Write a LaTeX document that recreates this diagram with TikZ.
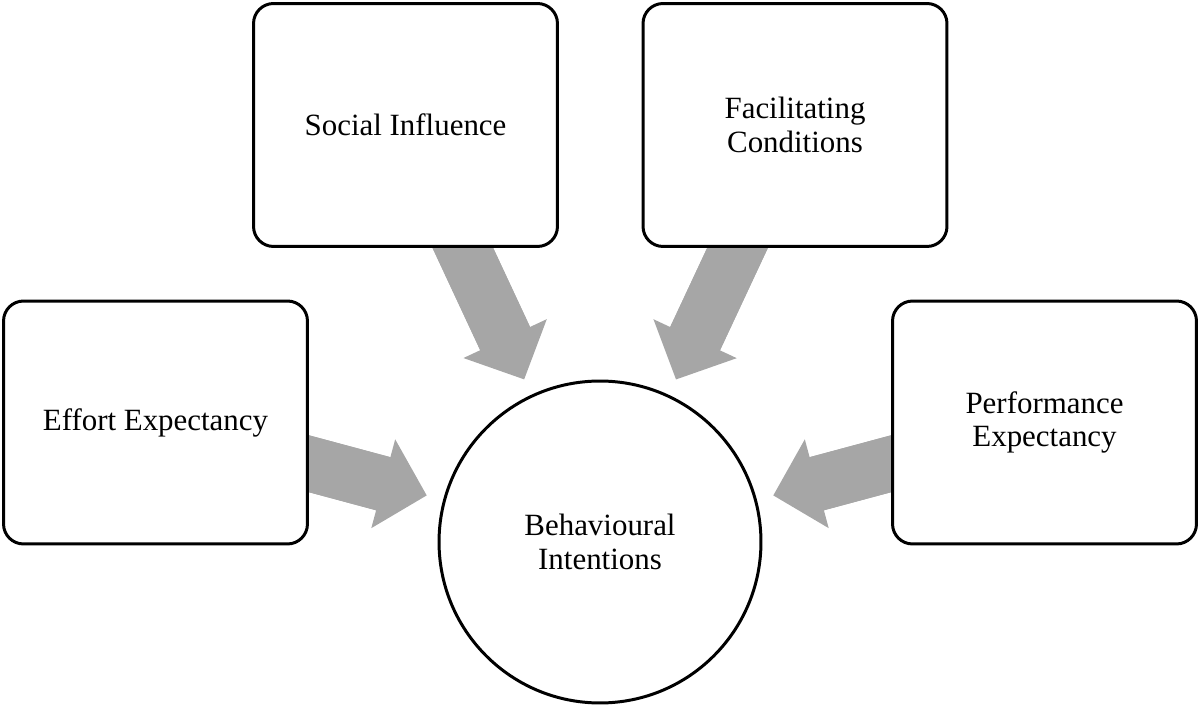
\documentclass[tikz,border=0pt]{standalone}
\usepackage{fontspec}
\setmainfont{Liberation Serif}
\usetikzlibrary{arrows.meta,backgrounds}
\definecolor{arrowgray}{HTML}{A6A6A6}
\tikzset{
  factorbox/.style={draw=black, line width=1.7pt, fill=white, rounded corners=0.4cm,
    minimum width=6.08cm, minimum height=4.86cm, align=center, inner sep=0pt,
    font=\fontsize{17.6pt}{19pt}\selectfont},
  centrecircle/.style={draw=black, line width=1.7pt, fill=white, circle,
    minimum size=6.44cm, align=center, inner sep=0pt,
    font=\fontsize{17.6pt}{19pt}\selectfont},
  blockarrow/.style={draw=arrowgray, line width=1.1cm, shorten >=0.34cm,
    -{Triangle[length=0.9cm, width=1.84cm, line width=0pt, color=arrowgray]}},
  blockshaft/.style={draw=arrowgray, line width=1.1cm, shorten >=0.94cm}
}
\begin{document}
\begin{tikzpicture}[x=0.02cm, y=-0.02cm]
  \useasboundingbox (0,0) rectangle (1200,705);
  \node[factorbox] (effort) at (155.5,422.5) {Effort Expectancy};
  \node[factorbox] (social) at (405.5,125) {Social Influence};
  \node[factorbox] (facil) at (795,125) {Facilitating\\Conditions};
  \node[factorbox] (perf) at (1044.5,422.5) {Performance\\Expectancy};
  \node[centrecircle] (bi) at (600,542) {Behavioural\\Intentions};
  \begin{scope}[on background layer]
    \foreach \src in {effort,social,facil,perf} {
      \draw[blockarrow] (\src.center) -- (bi);
      \draw[blockshaft] (\src.center) -- (bi);
    }
  \end{scope}
\end{tikzpicture}
\end{document}
